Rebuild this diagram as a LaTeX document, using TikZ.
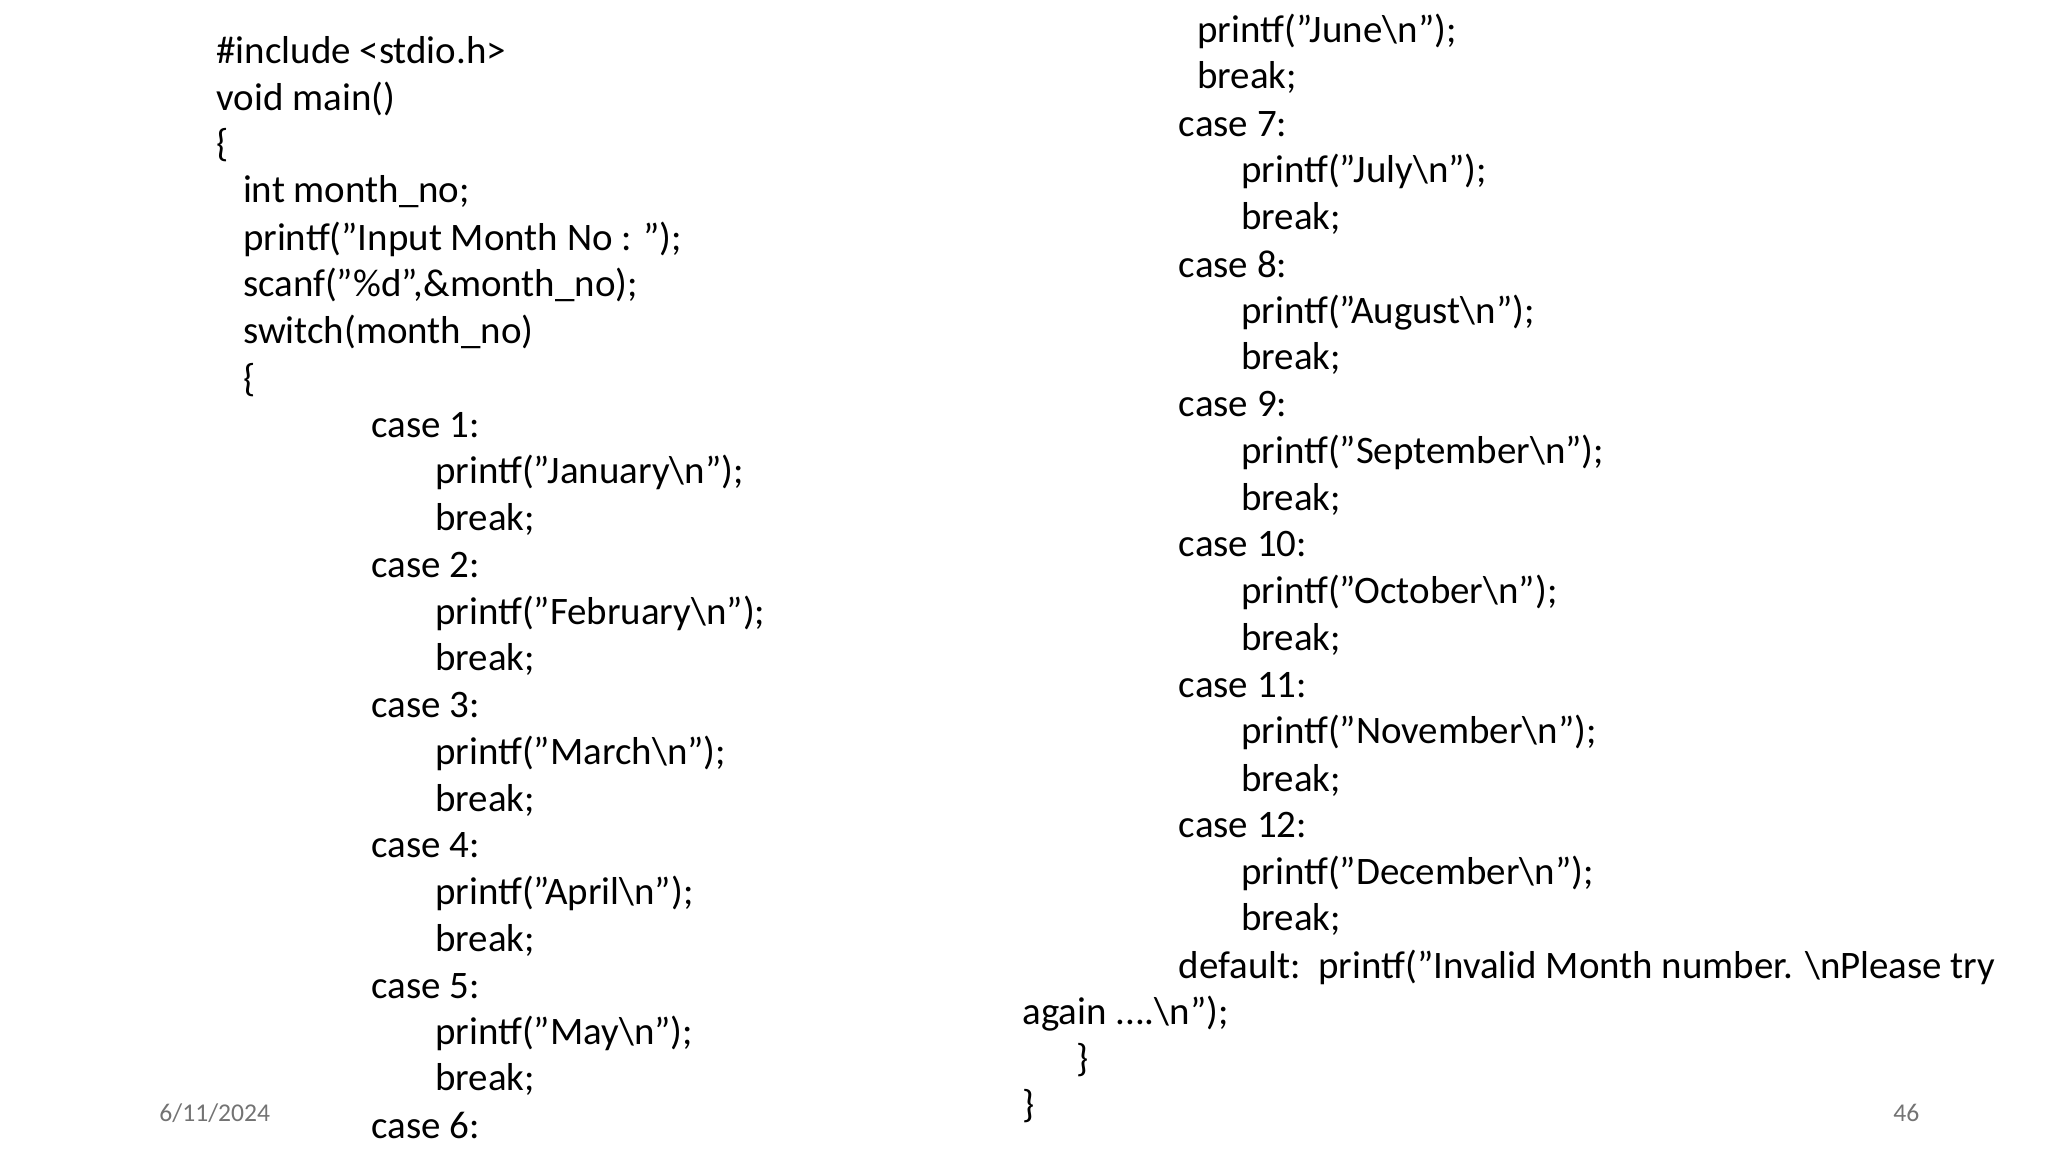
\documentclass[tikz,border=0pt]{standalone}
\usepackage{fontspec}
\setmainfont{Carlito}
\begin{document}
\begin{tikzpicture}[x=0.6214pt,y=-0.6214pt,
  code/.style={anchor=base west,inner sep=0pt,font=\fontsize{18.25}{20}\selectfont},
  foot/.style={anchor=base west,inner sep=0pt,text=black!55,font=\fontsize{12}{14}\selectfont}]
\useasboundingbox (0,0) rectangle (1545,868);
\def\bs{\textbackslash}
\def\q{\char34\relax}
% left column
\node[code] (l1) at (163,48) {\#include <stdio.h>};
\node[code] (l2) at (163,83) {void main()};
\node[code] (l3) at (163,118) {\{};
\node[code] (l4) at (183,153) {int month\_no;};
\node[code] (l5) at (183,189) {printf(\q Input Month No : \q);};
\node[code] (l6) at (183,224) {scanf(\q\%d\q,\&month\_no);};
\node[code] (l7) at (183,259) {switch(month\_no)};
\node[code] (l8) at (183,295) {\{};
\node[code] (l9) at (280,330) {case 1:};
\node[code] (l10) at (328,365) {printf(\q January\bs n\q);};
\node[code] (l11) at (328,400) {break;};
\node[code] (l12) at (280,436) {case 2:};
\node[code] (l13) at (328,471) {printf(\q February\bs n\q);};
\node[code] (l14) at (328,506) {break;};
\node[code] (l15) at (280,541) {case 3:};
\node[code] (l16) at (328,577) {printf(\q March\bs n\q);};
\node[code] (l17) at (328,612) {break;};
\node[code] (l18) at (280,647) {case 4:};
\node[code] (l19) at (328,682) {printf(\q April\bs n\q);};
\node[code] (l20) at (328,718) {break;};
\node[code] (l21) at (280,753) {case 5:};
\node[code] (l22) at (328,788) {printf(\q May\bs n\q);};
\node[code] (l23) at (328,823) {break;};
\node[code] (l24) at (280,859) {case 6:};
% right column
\node[code] (r1) at (903,32) {printf(\q June\bs n\q);};
\node[code] (r2) at (903,67) {break;};
\node[code] (r3) at (889,103) {case 7:};
\node[code] (r4) at (936,138) {printf(\q July\bs n\q);};
\node[code] (r5) at (936,173) {break;};
\node[code] (r6) at (889,209) {case 8:};
\node[code] (r7) at (936,244) {printf(\q August\bs n\q);};
\node[code] (r8) at (936,279) {break;};
\node[code] (r9) at (889,314) {case 9:};
\node[code] (r10) at (936,350) {printf(\q September\bs n\q);};
\node[code] (r11) at (936,385) {break;};
\node[code] (r12) at (889,420) {case 10:};
\node[code] (r13) at (936,455) {printf(\q October\bs n\q);};
\node[code] (r14) at (936,491) {break;};
\node[code] (r15) at (889,526) {case 11:};
\node[code] (r16) at (936,561) {printf(\q November\bs n\q);};
\node[code] (r17) at (936,597) {break;};
\node[code] (r18) at (889,632) {case 12:};
\node[code] (r19) at (936,667) {printf(\q December\bs n\q);};
\node[code] (r20) at (936,702) {break;};
\node[code] (r21) at (889,738) {default:\ \ printf(\q Invalid Month number. \bs nPlease try};
\node[code] (r22) at (771,773) {again ....\bs n\q);};
\node[code] (r23) at (812,808) {\}};
\node[code] (r24) at (771,843) {\}};
% footer
\node[foot] (date) at (120,846) {6/11/2024};
\node[foot] (page) at (1428,846) {46};
\end{tikzpicture}
\end{document}
